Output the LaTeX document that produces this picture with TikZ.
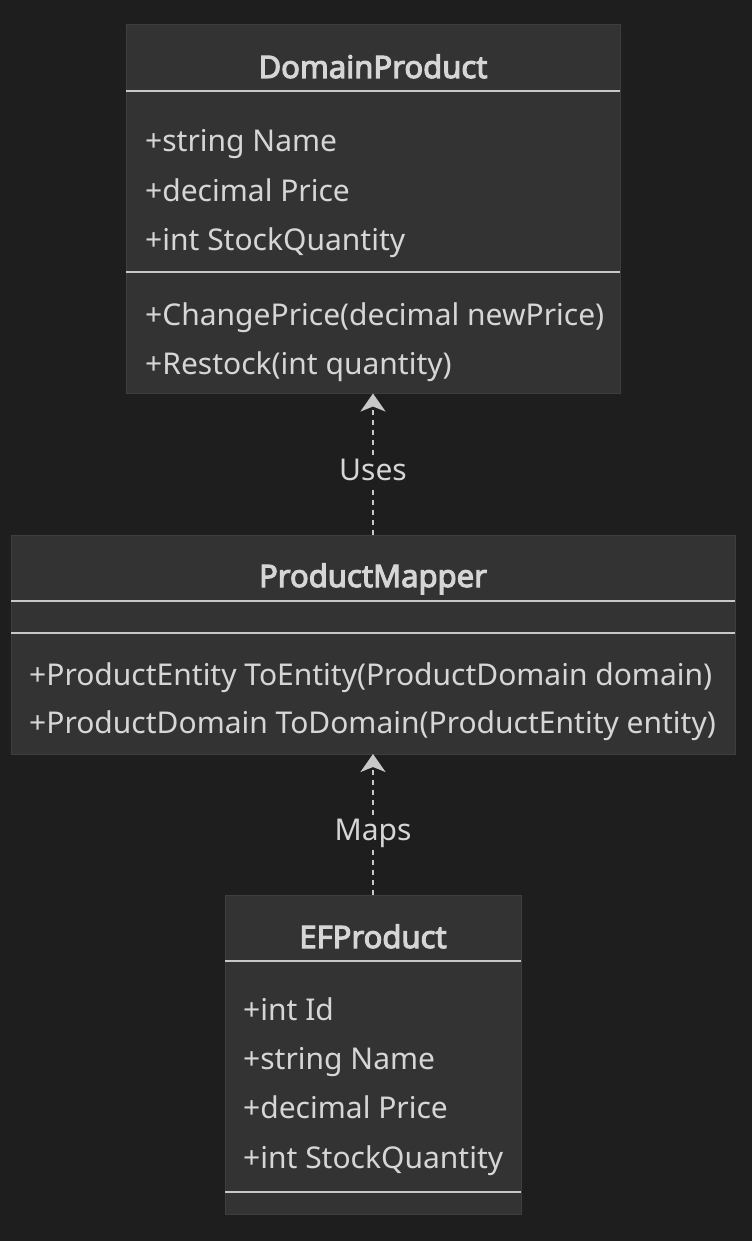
\documentclass[tikz,border=0pt]{standalone}
\usepackage{fontspec}
\setmainfont{Noto Sans}
\newfontfamily\namefont{Noto Sans}[FakeBold=3.5]
\usepackage{tikz}
\usetikzlibrary{arrows.meta,positioning}
\definecolor{fondo}{RGB}{30,30,30}
\definecolor{caja}{RGB}{51,51,51}
\definecolor{borde}{RGB}{62,62,62}
\definecolor{linea}{RGB}{200,200,200}
\definecolor{texto}{RGB}{214,214,214}
\tikzstyle{classbox}=[rectangle, draw=borde, fill=caja, line width=1pt,
                      inner sep=0pt, outer sep=0pt]
\tikzstyle{classname}=[anchor=base, text=texto, inner sep=0pt,
                       font=\namefont\fontsize{31}{37}\selectfont]
\tikzstyle{member}=[anchor=base west, text=texto, inner sep=0pt,
                    font=\fontsize{30}{36}\selectfont]
\tikzstyle{divider}=[linea, line width=2pt]
\tikzstyle{dep}=[linea, line width=2pt, dash pattern=on 5pt off 5pt,
                 -{Stealth[length=18pt, width=25pt, inset=5pt]}]
\tikzstyle{deplabel}=[fill=fondo, text=texto, inner sep=3pt,
                      text height=22pt, text depth=7pt,
                      font=\fontsize{30}{36}\selectfont]

\begin{document}
\begin{tikzpicture}[x=1pt, y=-1pt]

    \fill[fondo] (0,0) rectangle (752,1241);
    \useasboundingbox (0,0) rectangle (752,1241);

    % DomainProduct
    \draw (373,209.25) node(domain)[classbox, minimum width=494pt, minimum height=368.5pt]{};
    \draw (373,78) node(domain-name)[classname]{DomainProduct};
    \draw[divider] (126,91) -- (620,91);
    \foreach \t [count=\i] in {+string Name, +decimal Price, +int StockQuantity}
        \draw (145,{152+49.5*(\i-1)}) node(domain-a\i)[member]{\t};
    \draw[divider] (126,272) -- (620,272);
    \foreach \t [count=\i] in {+ChangePrice(decimal newPrice), +Restock(int quantity)}
        \draw (145,{325+49*(\i-1)}) node(domain-m\i)[member]{\t};

    % ProductMapper
    \draw (373,644.5) node(mapper)[classbox, minimum width=724pt, minimum height=219pt]{};
    \draw (373,587) node(mapper-name)[classname]{ProductMapper};
    \draw[divider] (11,601) -- (735,601);
    \draw[divider] (11,633) -- (735,633);
    \foreach \t [count=\i] in {+ProductEntity ToEntity(ProductDomain domain),
                               +ProductDomain ToDomain(ProductEntity entity)}
        \draw (29,{685+48.5*(\i-1)}) node(mapper-m\i)[member]{\t};

    % EFProduct
    \draw (373,1054.5) node(ef)[classbox, minimum width=296pt, minimum height=319pt]{};
    \draw (373,948) node(ef-name)[classname]{EFProduct};
    \draw[divider] (225,961) -- (521,961);
    \foreach \t [count=\i] in {+int Id, +string Name, +decimal Price, +int StockQuantity}
        \draw (243,{1020.5+49.2*(\i-1)}) node(ef-a\i)[member]{\t};
    \draw[divider] (225,1192) -- (521,1192);

    % dependencies
    \draw[dep] (mapper.north) -- node(uses)[deplabel, pos=0.44]{Uses} (domain.south);
    \draw[dep] (ef.north) -- node(maps)[deplabel, pos=0.44]{Maps} (mapper.south);

\end{tikzpicture}
\end{document}
